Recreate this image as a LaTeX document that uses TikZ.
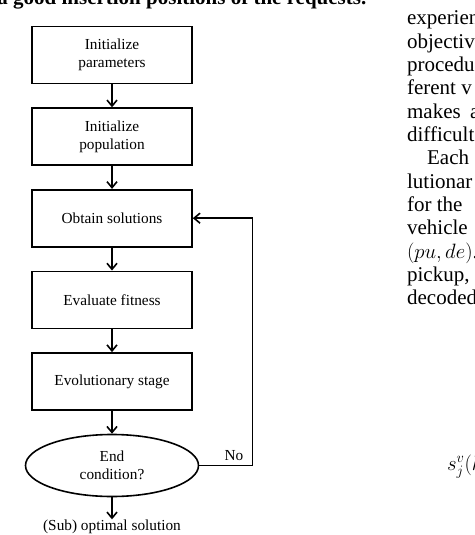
\documentclass[tikz,border=0pt]{standalone}
\usepackage{fontspec}
\setmainfont{Liberation Serif}
\usetikzlibrary{shapes,arrows.meta,positioning}

\begin{document}
\begin{tikzpicture}[x=1pt, y=-1pt, node distance=23pt, thick]
    % Styles
    \tikzstyle{stepbox} = [rectangle, draw, line width=1.6pt, minimum width=160pt, minimum height=57pt, inner sep=0pt, align=center, font=\fontsize{15.3}{18.5}\selectfont]
    \tikzstyle{decision} = [ellipse, draw, line width=1.6pt, minimum width=173pt, minimum height=62pt, inner sep=0pt, align=center, font=\fontsize{15.3}{18.5}\selectfont]
    \tikzstyle{arrow} = [-{Straight Barb[length=6pt, width=10pt, line width=1.6pt]}, line width=1.6pt]
    \tikzstyle{pagetext} = [anchor=base west, inner sep=0pt, font=\fontsize{21}{23.3}\selectfont]

    \useasboundingbox (0,0) rectangle (474,535);
    \clip (0,0) rectangle (474,535);

    % Flow chart
    \node [stepbox] (init_par) at (112,55) {Initialize\\parameters};
    \node [stepbox, below=of init_par] (init_pop) {Initialize\\population};
    \node [stepbox, below=of init_pop] (obtain) {Obtain solutions};
    \node [stepbox, below=of obtain] (fitness) {Evaluate fitness};
    \node [stepbox, below=of fitness] (evol) {Evolutionary stage};
    \node [decision, below=of evol] (endcond) {End\\condition?};
    \node [anchor=base, inner sep=0pt, font=\fontsize{15.3}{18.5}\selectfont] (result) at (112,530) {(Sub) optimal solution};

    % Connections
    \draw [arrow] (init_par) -- (init_pop);
    \draw [arrow] (init_pop) -- (obtain);
    \draw [arrow] (obtain) -- (fitness);
    \draw [arrow] (fitness) -- (evol);
    \draw [arrow] (evol) -- (endcond);
    \draw [arrow] (endcond.south) -- ++(0,22);

    % Loop back
    \coordinate (loop_corner) at (252.5,457.5);
    \draw [arrow] (endcond.east) -- (endcond.east -| loop_corner) node[pos=0.65, above=1pt, font=\fontsize{15.3}{18.5}\selectfont] (no) {No}
        -- (obtain.east -| loop_corner) -- (obtain.east);

    % Surrounding page text
    \node [pagetext, font=\fontsize{21}{23.3}\selectfont\bfseries] (head) at (-3,5) {a good insertion positions of the requests.};
    \node [pagetext] (l1) at (406.7,25) {experien};
    \node [pagetext] (l2) at (406.7,48.3) {objectiv};
    \node [pagetext] (l3) at (406.7,71.6) {procedu};
    \node [pagetext] (l4) at (406.7,94.9) {ferent v};
    \node [pagetext] (l5) at (406.7,118.2) {makes\hspace{0.45em}a};
    \node [pagetext] (l6) at (406.7,141.5) {difficult};
    \node [pagetext] (l7) at (426.7,164.8) {Each};
    \node [pagetext] (l8) at (406.7,188.1) {lutionar};
    \node [pagetext] (l9) at (406.7,211.4) {for the};
    \node [pagetext] (l10) at (406.7,234.7) {vehicle};
    \node [pagetext] (l11) at (406.7,258) {$(pu, de)$.};
    \node [pagetext] (l12) at (406.7,281.3) {pickup,};
    \node [pagetext] (l13) at (406.7,304.6) {decoded};
    \node [pagetext] (formula) at (446.7,470) {$s_j^v(k)$};

\end{tikzpicture}
\end{document}
